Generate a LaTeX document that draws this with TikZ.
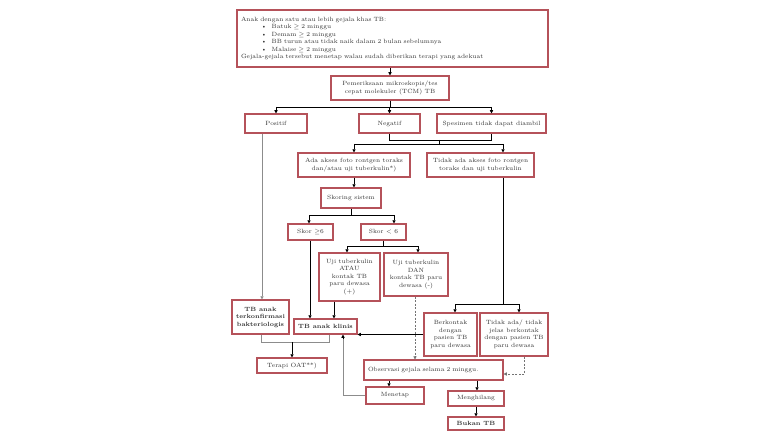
\documentclass[tikz,border=0pt]{standalone}
\usetikzlibrary{arrows.meta}
\definecolor{boxred}{HTML}{B5525A}
\definecolor{txt}{HTML}{333333}
\tikzset{
  box/.style={draw=boxred, line width=1.1pt, fill=white, inner sep=1pt, align=center, text=txt,
    font=\fontsize{6.1}{7.5}\selectfont},
  ln/.style={line width=0.8pt, black},
  gln/.style={line width=0.7pt, black!45},
  arr/.style={ln, -{Triangle[length=3.2pt,width=3.2pt]}},
  garr/.style={gln, -{Triangle[length=3.2pt,width=3.2pt]}, black!45},
  dln/.style={line width=0.6pt, black!55, dash pattern=on 2pt off 1.5pt},
  darr/.style={dln, -{Triangle[length=3.2pt,width=3.2pt]}},
}
\newcommand\fbx[7][]{\node[box,#1,minimum width=#4pt-#3pt,minimum height=#6pt-#5pt] (#2) at ({(#3+#4)/2},{(#5+#6)/2}) {#7};}
\begin{document}
\begin{tikzpicture}[x=1pt,y=-1pt]
\useasboundingbox[fill=white] (0,0) rectangle (768,433);
% boxes
\fbx[align=left,text width=303pt]{top}{237}{548}{10}{67}{Anak dengan satu atau lebih gejala khas TB:\\
\hspace*{20pt}\textbullet\hspace{5pt}Batuk $\geq$ 2 minggu\\
\hspace*{20pt}\textbullet\hspace{5pt}Demam $\geq$ 2 minggu\\
\hspace*{20pt}\textbullet\hspace{5pt}BB turun atau tidak naik dalam 2 bulan sebelumnya\\
\hspace*{20pt}\textbullet\hspace{5pt}Malaise $\geq$ 2 minggu\\
Gejala-gejala tersebut menetap walau sudah diberikan terapi yang adekuat}
\fbx{pem}{331}{449}{76}{100}{Pemeriksaan mikroskopis/tes\\ cepat molekuler (TCM) TB}
\fbx{pos}{245}{307}{114}{133}{Positif}
\fbx{neg}{359}{420}{114}{133}{Negatif}
\fbx{spe}{437}{546}{114}{133}{Spesimen tidak dapat diambil}
\fbx{ada}{298}{410}{153}{177}{Ada akses foto rontgen toraks\\ dan/atau uji tuberkulin*)}
\fbx{tdk}{427}{534}{153}{177}{Tidak ada akses foto rontgen\\ toraks dan uji tuberkulin}
\fbx{sko}{321}{381}{188}{208}{Skoring sistem}
\fbx{sa}{288}{333}{224}{240}{Skor $\geq$6}
\fbx{sb}{361}{406}{224}{240}{Skor $<$ 6}
\fbx{atau}{319}{380}{253}{301}{Uji tuberkulin\\ ATAU\\ kontak TB\\ paru dewasa\\ (+)}
\fbx{dan}{384}{448}{253}{296}{Uji tuberkulin\\ DAN\\ kontak TB paru\\ dewasa (-)}
\fbx{konf}{232}{289}{300}{334}{\bfseries TB anak\\ \bfseries terkonfirmasi\\ \bfseries bakteriologis}
\fbx{klin}{294}{357}{319}{334}{\bfseries TB anak klinis}
\fbx{berk}{424}{477}{313}{356}{Berkontak\\ dengan\\ pasien TB\\ paru dewasa}
\fbx{tj}{480}{548}{313}{356}{Tidak ada/ tidak\\ jelas berkontak\\ dengan pasien TB\\ paru dewasa}
\fbx{ter}{257}{327}{358}{373}{Terapi OAT**)}
\fbx[align=left,text width=131pt]{obs}{364}{503}{360}{380}{Observasi gejala selama 2 minggu.}
\fbx{men}{366}{424}{387}{404}{Menetap}
\fbx{hil}{448}{504}{391}{406}{Menghilang}
\fbx{buk}{448}{504}{417}{430}{\bfseries Bukan TB}
% junction coordinates
\coordinate (h1) at (0,107);
\coordinate (h2) at (0,140);
\coordinate (m2) at (439,140);
\coordinate (h3) at (0,144);
\coordinate (vT) at (503,0);
\coordinate (h4) at (0,215);
\coordinate (a4) at (309,0);
\coordinate (b4) at (394,0);
\coordinate (h5) at (0,246);
\coordinate (a5) at (347,0);
\coordinate (b5) at (418,0);
\coordinate (vA) at (310,0);
\coordinate (vB) at (334,0);
\coordinate (vC) at (262,0);
\coordinate (vD) at (415,0);
\coordinate (h6) at (0,304);
\coordinate (a6) at (455,0);
\coordinate (b6) at (519,0);
\coordinate (vE) at (524,0);
\coordinate (h7) at (0,374);
\coordinate (h8) at (0,342);
\coordinate (a8) at (261,0);
\coordinate (b8) at (329,0);
\coordinate (c8) at (292,0);
\coordinate (vF) at (389,0);
\coordinate (vG) at (343,0);
\coordinate (vH) at (477,0);
% connectors
\draw[arr] (top.south -| pem.north) -- (pem.north);
\draw[ln] (pem.south) -- (pem.south |- h1);
\draw[ln] (pos.north |- h1) -- (spe.north |- h1);
\draw[arr] (pos.north |- h1) -- (pos.north);
\draw[arr] (neg.north |- h1) -- (neg.north);
\draw[arr] (spe.north |- h1) -- (spe.north);
\draw[ln] (neg.south) -- (neg.south |- h2) -- (spe.south |- h2) -- (spe.south);
\draw[ln] (m2) -- (m2 |- h3);
\draw[ln] (ada.north |- h3) -- (vT |- h3);
\draw[arr] (ada.north |- h3) -- (ada.north);
\draw[arr] (vT |- h3) -- (vT |- tdk.north);
\draw[arr] (ada.south) -- (ada.south |- sko.north);
\draw[ln] (sko.south) -- (sko.south |- h4);
\draw[ln] (a4 |- h4) -- (b4 |- h4);
\draw[arr] (a4 |- h4) -- (a4 |- sa.north);
\draw[arr] (b4 |- h4) -- (b4 |- sb.north);
\draw[ln] (sb.south) -- (sb.south |- h5);
\draw[ln] (a5 |- h5) -- (b5 |- h5);
\draw[arr] (a5 |- h5) -- (a5 |- atau.north);
\draw[arr] (b5 |- h5) -- (b5 |- dan.north);
\draw[arr] (vA |- sa.south) -- (vA |- klin.north);
\draw[arr] (vB |- atau.south) -- (vB |- klin.north);
\draw[garr] (vC |- pos.south) -- (vC |- konf.north);
\draw[darr] (vD |- dan.south) -- (vD |- obs.north);
\draw[ln] (vT |- tdk.south) -- (vT |- h6);
\draw[ln] (a6 |- h6) -- (b6 |- h6);
\draw[arr] (a6 |- h6) -- (a6 |- berk.north);
\draw[arr] (b6 |- h6) -- (b6 |- tj.north);
\draw[arr] (berk.west) -- (berk.west -| klin.east);
\draw[dln] (vE |- tj.south) -- (vE |- h7);
\draw[darr] (vE |- h7) -- (obs.east |- h7);
\draw[gln] (a8 |- konf.south) -- (a8 |- h8) -- (b8 |- h8) -- (b8 |- klin.south);
\draw[arr] (c8 |- h8) -- (c8 |- ter.north);
\draw[arr] (vF |- obs.south) -- (vF |- men.north);
\draw[gln] (men.west) -- (vG |- men.west) -- ([yshift=-4pt]vG |- klin.south);
\draw[arr] ([yshift=-4.5pt]vG |- klin.south) -- (vG |- klin.south);
\draw[arr] (vH |- obs.south) -- (vH |- hil.north);
\draw[arr] (hil.south) -- (buk.north);
\end{tikzpicture}
\end{document}
